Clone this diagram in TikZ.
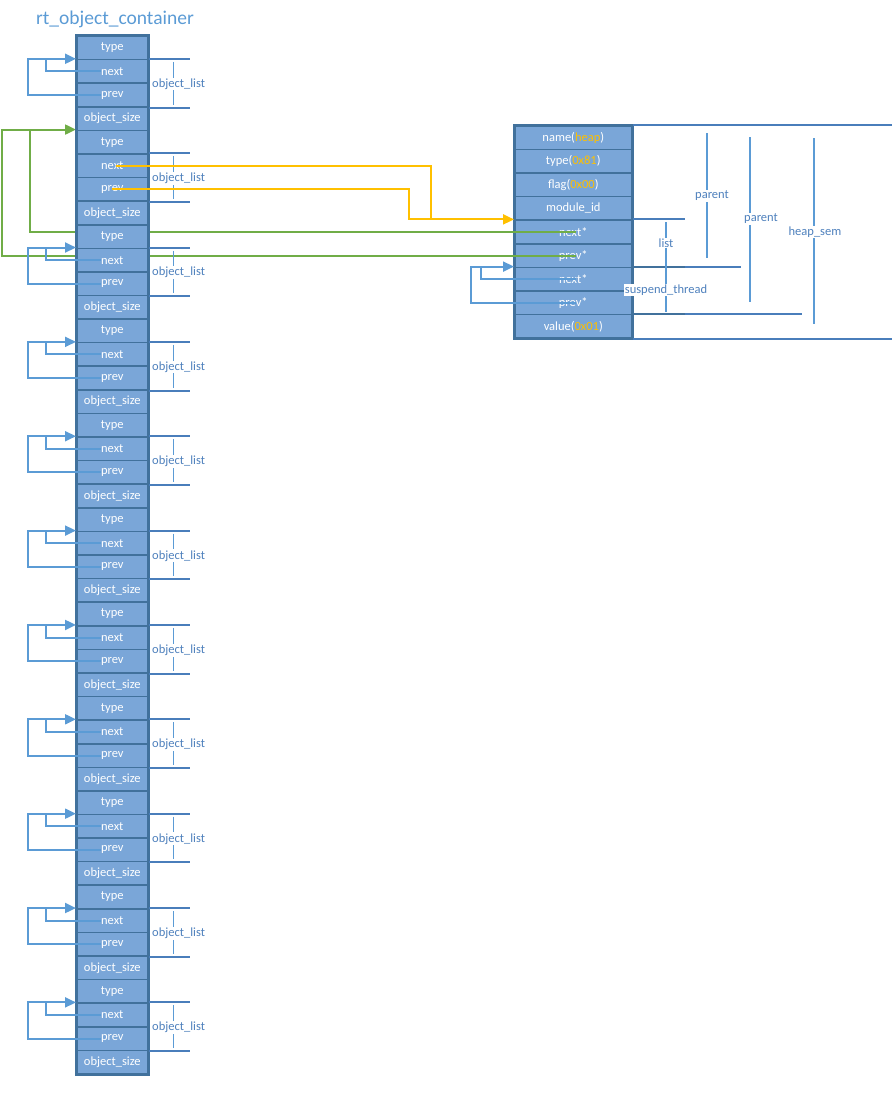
\documentclass[tikz,border=0pt]{standalone}
\usepackage{fontspec}
\setmainfont{Carlito}
\usetikzlibrary{arrows.meta}
\definecolor{cellfill}{RGB}{122,166,216}
\definecolor{celledge}{RGB}{65,113,156}
\definecolor{lineblue}{RGB}{91,155,213}
\definecolor{darkline}{RGB}{74,126,187}
\definecolor{labblue}{RGB}{79,129,189}
\definecolor{hl}{RGB}{255,192,0}
\definecolor{grn}{RGB}{112,173,71}
\pgfdeclarelayer{back}
\pgfdeclarelayer{mid}
\pgfdeclarelayer{front}
\pgfsetlayers{back,main,mid,front}
\begin{document}
\begin{tikzpicture}[x=1pt,y=-1pt,
  cell/.style={draw=celledge, line width=1.6pt, fill=cellfill, text=white,
    minimum width=71pt, minimum height=23.6pt, inner sep=0pt,
    font=\fontsize{12.5}{14}\selectfont, anchor=north west},
  scell/.style={cell, minimum width=117pt},
  conn/.style={line width=2pt},
  tip/.style={-{Triangle[length=11pt,width=10pt]}},
  brk/.style={darkline, line width=2pt},
  vbar/.style={lineblue, line width=1.7pt},
  lab/.style={fill=white, inner sep=1pt, text=labblue, font=\fontsize{12.5}{14}\selectfont}]
\useasboundingbox (0,0) rectangle (892,1093);
% title
\node[text=lineblue, font=\fontsize{19.5}{22}\selectfont] (title) at (115,19) {rt\_object\_container};
% right structure
\begin{pgfonlayer}{back}
\foreach \t [count=\k from 0] in {name(\textcolor{hl}{heap}), type(\textcolor{hl}{0x81}), flag(\textcolor{hl}{0x00}), module\_id, next*, prev*, next*, prev*, value(\textcolor{hl}{0x01})}
  \node[scell] (s-\k) at (514,125+\k*23.6) {\t};
\draw[celledge, line width=2pt] (s-0.north west) rectangle (s-8.south east);
\end{pgfonlayer}
% left column
\begin{pgfonlayer}{mid}
\foreach \g in {0,...,10}{
  \foreach \t [count=\k from 0] in {type,next,prev,object\_size}
    \node[cell] (c-\g-\k) at (76,35.2+\g*94.36+\k*23.59) {\t};
}
\draw[celledge, line width=2pt] (c-0-0.north west) rectangle (c-10-3.south east);
\end{pgfonlayer}
% green links
\draw[grn, conn, tip] ([xshift=2.5pt]s-4.center) -| ([xshift=-46pt]c-1-0.north west) -- (c-1-0.north west);
\draw[grn, conn] ([xshift=2.5pt]s-5.center) -| ([xshift=-74pt]c-1-0.north west) -- ([xshift=-46pt]c-1-0.north west);
\begin{pgfonlayer}{front}
\foreach \g in {0,...,10}{
  \draw[brk] (c-\g-1.north east) -- ++(41,0);
  \draw[brk] (c-\g-2.south east) -- ++(41,0);
  \draw[vbar] ([xshift=25pt,yshift=-3pt]c-\g-1.north east) -- ([xshift=25pt,yshift=3pt]c-\g-2.south east);
  \node[lab] (ol-\g) at ([xshift=30pt]c-\g-1.south east) {object\_list};
}
\foreach \g in {0,2,3,4,5,6,7,8,9,10}{
  \draw[lineblue, conn, tip] ([xshift=-11.5pt]c-\g-1.center) -| ([xshift=-30pt]c-\g-1.north west) -- (c-\g-1.north west);
  \draw[lineblue, conn] ([xshift=-11.5pt]c-\g-2.center) -| ([xshift=-48pt]c-\g-1.north west) -- ([xshift=-30pt]c-\g-1.north west);
}
% yellow links
\draw[hl, conn, tip] ([xshift=3.5pt]c-1-1.center) -| ([xshift=-83pt]s-4.north west) -- (s-4.north west);
\draw[hl, conn] (c-1-2.center) -| ([xshift=-105pt]s-4.north west) -- ([xshift=-83pt]s-4.north west);
% right loop
\draw[lineblue, conn, tip] ([xshift=2.5pt]s-6.center) -| ([xshift=-33pt]s-6.north west) -- (s-6.north west);
\draw[lineblue, conn] ([xshift=2.5pt]s-7.center) -| ([xshift=-43pt]s-6.north west) -- ([xshift=-33pt]s-6.north west);
% right brackets
\draw[brk] (s-0.north east) -- ++(259,0);
\draw[brk] (s-8.south east) -- ++(259,0);
\draw[brk] (s-4.north east) -- ++(52,0);
\draw[brk] (s-6.north east) -- ++(108,0);
\draw[brk] (s-8.north east) -- ++(169,0);
\draw[celledge, line width=2.2pt] (s-6.north east) -- ++(52,0);
\draw[celledge, line width=2.2pt] (s-8.north east) -- ++(52,0);
\draw[vbar] (666,222) -- (666,312);
\node[lab] (lst) at (666,243) {list};
\node[lab] (susp) at (666,290) {suspend\_thread};
\draw[vbar] (707,133) -- (707,258);
\node[lab] (par1) at (712,196) {parent};
\draw[vbar] (750,137) -- (750,302);
\node[lab] (par2) at (761,219) {parent};
\draw[vbar] (814,138) -- (814,324);
\node[lab] (hsem) at (815,232) {heap\_sem};
\end{pgfonlayer}
\end{tikzpicture}
\end{document}
